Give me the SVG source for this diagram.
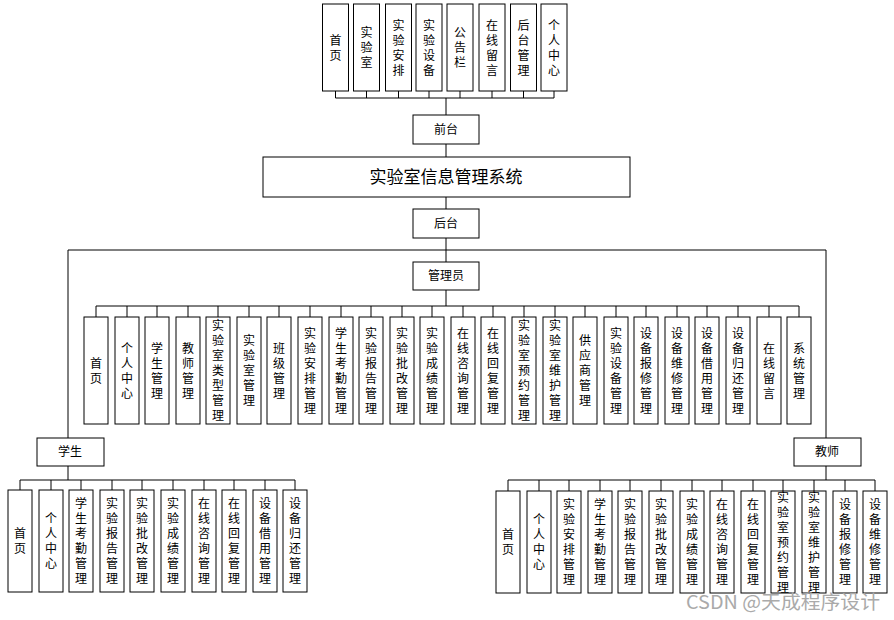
<svg xmlns="http://www.w3.org/2000/svg" width="894" height="620" viewBox="0 0 894 620">
<style>
rect{fill:#fff;stroke:#000;stroke-width:1}
text{font-family:"Noto Sans CJK SC","Liberation Sans",sans-serif;font-size:12px;fill:#000;text-anchor:middle}
.l{stroke:#000;stroke-width:1;fill:none}
.t{font-size:17px}
</style>
<rect x="0" y="0" width="894" height="620" style="stroke:none"/>
<g id="connectors">
<path class="l" d="M335.5 91V98M366.5 91V98M398.5 91V98M429 91V98M460 91V98M492 91V98M523.5 91V98M554 91V98M335.5 98H554M446 98V115M446 144V157M446 197V209M446 238V262M68 250H826M68 250V438M826 250V438"/>
<path class="l" d="M446 290V306M96 306H799M96 306V317M127 306V317M157 306V317M188 306V317M218 306V317M249 306V317M279 306V317M310 306V317M341 306V317M371 306V317M402 306V317M432 306V317M463 306V317M493 306V317M524 306V317M555 306V317M585 306V317M616 306V317M646 306V317M677 306V317M707 306V317M738 306V317M769 306V317M799 306V317"/>
<path class="l" d="M68 466V480M20 480H295M20 480V490M51 480V490M81 480V490M112 480V490M142 480V490M173 480V490M204 480V490M234 480V490M265 480V490M295 480V490"/>
<path class="l" d="M826 466V480M508 480H875M508 480V491M539 480V491M569 480V491M600 480V491M630 480V491M661 480V491M692 480V491M722 480V491M753 480V491M783 480V491M814 480V491M845 480V491M875 480V491"/>
</g>
<g id="front-items">
<rect x="322.5" y="4" width="26" height="87"/><text x="335.5" y="44.5"><tspan x="335.5">首</tspan><tspan x="335.5" dy="15">页</tspan></text>
<rect x="353.5" y="4" width="26" height="87"/><text x="366.5" y="37"><tspan x="366.5">实</tspan><tspan x="366.5" dy="15">验</tspan><tspan x="366.5" dy="15">室</tspan></text>
<rect x="385.5" y="4" width="26" height="87"/><text x="398.5" y="29.5"><tspan x="398.5">实</tspan><tspan x="398.5" dy="15">验</tspan><tspan x="398.5" dy="15">安</tspan><tspan x="398.5" dy="15">排</tspan></text>
<rect x="416" y="4" width="26" height="87"/><text x="429" y="29.5"><tspan x="429">实</tspan><tspan x="429" dy="15">验</tspan><tspan x="429" dy="15">设</tspan><tspan x="429" dy="15">备</tspan></text>
<rect x="447" y="4" width="26" height="87"/><text x="460" y="37"><tspan x="460">公</tspan><tspan x="460" dy="15">告</tspan><tspan x="460" dy="15">栏</tspan></text>
<rect x="479" y="4" width="26" height="87"/><text x="492" y="29.5"><tspan x="492">在</tspan><tspan x="492" dy="15">线</tspan><tspan x="492" dy="15">留</tspan><tspan x="492" dy="15">言</tspan></text>
<rect x="510.5" y="4" width="26" height="87"/><text x="523.5" y="29.5"><tspan x="523.5">后</tspan><tspan x="523.5" dy="15">台</tspan><tspan x="523.5" dy="15">管</tspan><tspan x="523.5" dy="15">理</tspan></text>
<rect x="541" y="4" width="26" height="87"/><text x="554" y="29.5"><tspan x="554">个</tspan><tspan x="554" dy="15">人</tspan><tspan x="554" dy="15">中</tspan><tspan x="554" dy="15">心</tspan></text>
</g>
<g id="qiantai"><rect x="413" y="115" width="66" height="29"/><text x="446" y="134">前台</text></g>
<g id="title"><rect x="263" y="157" width="367" height="40"/><text class="t" x="446" y="183">实验室信息管理系统</text></g>
<g id="houtai"><rect x="413" y="209" width="66" height="29"/><text x="446" y="228">后台</text></g>
<g id="admin"><rect x="413" y="262" width="66" height="28"/><text x="446" y="280">管理员</text></g>
<g id="student"><rect x="37" y="438" width="67" height="28"/><text x="70" y="456">学生</text></g>
<g id="teacher"><rect x="794" y="438" width="67" height="28"/><text x="827" y="456">教师</text></g>
<g id="admin-items">
<rect x="84" y="317" width="24" height="107"/><text x="96" y="367.5"><tspan x="96">首</tspan><tspan x="96" dy="15">页</tspan></text>
<rect x="115" y="317" width="24" height="107"/><text x="127" y="352.5"><tspan x="127">个</tspan><tspan x="127" dy="15">人</tspan><tspan x="127" dy="15">中</tspan><tspan x="127" dy="15">心</tspan></text>
<rect x="145" y="317" width="24" height="107"/><text x="157" y="352.5"><tspan x="157">学</tspan><tspan x="157" dy="15">生</tspan><tspan x="157" dy="15">管</tspan><tspan x="157" dy="15">理</tspan></text>
<rect x="176" y="317" width="24" height="107"/><text x="188" y="352.5"><tspan x="188">教</tspan><tspan x="188" dy="15">师</tspan><tspan x="188" dy="15">管</tspan><tspan x="188" dy="15">理</tspan></text>
<rect x="206" y="317" width="24" height="107"/><text x="218" y="330"><tspan x="218">实</tspan><tspan x="218" dy="15">验</tspan><tspan x="218" dy="15">室</tspan><tspan x="218" dy="15">类</tspan><tspan x="218" dy="15">型</tspan><tspan x="218" dy="15">管</tspan><tspan x="218" dy="15">理</tspan></text>
<rect x="237" y="317" width="24" height="107"/><text x="249" y="345"><tspan x="249">实</tspan><tspan x="249" dy="15">验</tspan><tspan x="249" dy="15">室</tspan><tspan x="249" dy="15">管</tspan><tspan x="249" dy="15">理</tspan></text>
<rect x="267" y="317" width="24" height="107"/><text x="279" y="352.5"><tspan x="279">班</tspan><tspan x="279" dy="15">级</tspan><tspan x="279" dy="15">管</tspan><tspan x="279" dy="15">理</tspan></text>
<rect x="298" y="317" width="24" height="107"/><text x="310" y="337.5"><tspan x="310">实</tspan><tspan x="310" dy="15">验</tspan><tspan x="310" dy="15">安</tspan><tspan x="310" dy="15">排</tspan><tspan x="310" dy="15">管</tspan><tspan x="310" dy="15">理</tspan></text>
<rect x="329" y="317" width="24" height="107"/><text x="341" y="337.5"><tspan x="341">学</tspan><tspan x="341" dy="15">生</tspan><tspan x="341" dy="15">考</tspan><tspan x="341" dy="15">勤</tspan><tspan x="341" dy="15">管</tspan><tspan x="341" dy="15">理</tspan></text>
<rect x="359" y="317" width="24" height="107"/><text x="371" y="337.5"><tspan x="371">实</tspan><tspan x="371" dy="15">验</tspan><tspan x="371" dy="15">报</tspan><tspan x="371" dy="15">告</tspan><tspan x="371" dy="15">管</tspan><tspan x="371" dy="15">理</tspan></text>
<rect x="390" y="317" width="24" height="107"/><text x="402" y="337.5"><tspan x="402">实</tspan><tspan x="402" dy="15">验</tspan><tspan x="402" dy="15">批</tspan><tspan x="402" dy="15">改</tspan><tspan x="402" dy="15">管</tspan><tspan x="402" dy="15">理</tspan></text>
<rect x="420" y="317" width="24" height="107"/><text x="432" y="337.5"><tspan x="432">实</tspan><tspan x="432" dy="15">验</tspan><tspan x="432" dy="15">成</tspan><tspan x="432" dy="15">绩</tspan><tspan x="432" dy="15">管</tspan><tspan x="432" dy="15">理</tspan></text>
<rect x="451" y="317" width="24" height="107"/><text x="463" y="337.5"><tspan x="463">在</tspan><tspan x="463" dy="15">线</tspan><tspan x="463" dy="15">咨</tspan><tspan x="463" dy="15">询</tspan><tspan x="463" dy="15">管</tspan><tspan x="463" dy="15">理</tspan></text>
<rect x="481" y="317" width="24" height="107"/><text x="493" y="337.5"><tspan x="493">在</tspan><tspan x="493" dy="15">线</tspan><tspan x="493" dy="15">回</tspan><tspan x="493" dy="15">复</tspan><tspan x="493" dy="15">管</tspan><tspan x="493" dy="15">理</tspan></text>
<rect x="512" y="317" width="24" height="107"/><text x="524" y="330"><tspan x="524">实</tspan><tspan x="524" dy="15">验</tspan><tspan x="524" dy="15">室</tspan><tspan x="524" dy="15">预</tspan><tspan x="524" dy="15">约</tspan><tspan x="524" dy="15">管</tspan><tspan x="524" dy="15">理</tspan></text>
<rect x="543" y="317" width="24" height="107"/><text x="555" y="330"><tspan x="555">实</tspan><tspan x="555" dy="15">验</tspan><tspan x="555" dy="15">室</tspan><tspan x="555" dy="15">维</tspan><tspan x="555" dy="15">护</tspan><tspan x="555" dy="15">管</tspan><tspan x="555" dy="15">理</tspan></text>
<rect x="573" y="317" width="24" height="107"/><text x="585" y="345"><tspan x="585">供</tspan><tspan x="585" dy="15">应</tspan><tspan x="585" dy="15">商</tspan><tspan x="585" dy="15">管</tspan><tspan x="585" dy="15">理</tspan></text>
<rect x="604" y="317" width="24" height="107"/><text x="616" y="337.5"><tspan x="616">实</tspan><tspan x="616" dy="15">验</tspan><tspan x="616" dy="15">设</tspan><tspan x="616" dy="15">备</tspan><tspan x="616" dy="15">管</tspan><tspan x="616" dy="15">理</tspan></text>
<rect x="634" y="317" width="24" height="107"/><text x="646" y="337.5"><tspan x="646">设</tspan><tspan x="646" dy="15">备</tspan><tspan x="646" dy="15">报</tspan><tspan x="646" dy="15">修</tspan><tspan x="646" dy="15">管</tspan><tspan x="646" dy="15">理</tspan></text>
<rect x="665" y="317" width="24" height="107"/><text x="677" y="337.5"><tspan x="677">设</tspan><tspan x="677" dy="15">备</tspan><tspan x="677" dy="15">维</tspan><tspan x="677" dy="15">修</tspan><tspan x="677" dy="15">管</tspan><tspan x="677" dy="15">理</tspan></text>
<rect x="695" y="317" width="24" height="107"/><text x="707" y="337.5"><tspan x="707">设</tspan><tspan x="707" dy="15">备</tspan><tspan x="707" dy="15">借</tspan><tspan x="707" dy="15">用</tspan><tspan x="707" dy="15">管</tspan><tspan x="707" dy="15">理</tspan></text>
<rect x="726" y="317" width="24" height="107"/><text x="738" y="337.5"><tspan x="738">设</tspan><tspan x="738" dy="15">备</tspan><tspan x="738" dy="15">归</tspan><tspan x="738" dy="15">还</tspan><tspan x="738" dy="15">管</tspan><tspan x="738" dy="15">理</tspan></text>
<rect x="757" y="317" width="24" height="107"/><text x="769" y="352.5"><tspan x="769">在</tspan><tspan x="769" dy="15">线</tspan><tspan x="769" dy="15">留</tspan><tspan x="769" dy="15">言</tspan></text>
<rect x="787" y="317" width="24" height="107"/><text x="799" y="352.5"><tspan x="799">系</tspan><tspan x="799" dy="15">统</tspan><tspan x="799" dy="15">管</tspan><tspan x="799" dy="15">理</tspan></text>
</g>
<g id="student-items">
<rect x="8" y="490" width="24" height="102"/><text x="20" y="538"><tspan x="20">首</tspan><tspan x="20" dy="15">页</tspan></text>
<rect x="39" y="490" width="24" height="102"/><text x="51" y="523"><tspan x="51">个</tspan><tspan x="51" dy="15">人</tspan><tspan x="51" dy="15">中</tspan><tspan x="51" dy="15">心</tspan></text>
<rect x="69" y="490" width="24" height="102"/><text x="81" y="508"><tspan x="81">学</tspan><tspan x="81" dy="15">生</tspan><tspan x="81" dy="15">考</tspan><tspan x="81" dy="15">勤</tspan><tspan x="81" dy="15">管</tspan><tspan x="81" dy="15">理</tspan></text>
<rect x="100" y="490" width="24" height="102"/><text x="112" y="508"><tspan x="112">实</tspan><tspan x="112" dy="15">验</tspan><tspan x="112" dy="15">报</tspan><tspan x="112" dy="15">告</tspan><tspan x="112" dy="15">管</tspan><tspan x="112" dy="15">理</tspan></text>
<rect x="130" y="490" width="24" height="102"/><text x="142" y="508"><tspan x="142">实</tspan><tspan x="142" dy="15">验</tspan><tspan x="142" dy="15">批</tspan><tspan x="142" dy="15">改</tspan><tspan x="142" dy="15">管</tspan><tspan x="142" dy="15">理</tspan></text>
<rect x="161" y="490" width="24" height="102"/><text x="173" y="508"><tspan x="173">实</tspan><tspan x="173" dy="15">验</tspan><tspan x="173" dy="15">成</tspan><tspan x="173" dy="15">绩</tspan><tspan x="173" dy="15">管</tspan><tspan x="173" dy="15">理</tspan></text>
<rect x="192" y="490" width="24" height="102"/><text x="204" y="508"><tspan x="204">在</tspan><tspan x="204" dy="15">线</tspan><tspan x="204" dy="15">咨</tspan><tspan x="204" dy="15">询</tspan><tspan x="204" dy="15">管</tspan><tspan x="204" dy="15">理</tspan></text>
<rect x="222" y="490" width="24" height="102"/><text x="234" y="508"><tspan x="234">在</tspan><tspan x="234" dy="15">线</tspan><tspan x="234" dy="15">回</tspan><tspan x="234" dy="15">复</tspan><tspan x="234" dy="15">管</tspan><tspan x="234" dy="15">理</tspan></text>
<rect x="253" y="490" width="24" height="102"/><text x="265" y="508"><tspan x="265">设</tspan><tspan x="265" dy="15">备</tspan><tspan x="265" dy="15">借</tspan><tspan x="265" dy="15">用</tspan><tspan x="265" dy="15">管</tspan><tspan x="265" dy="15">理</tspan></text>
<rect x="283" y="490" width="24" height="102"/><text x="295" y="508"><tspan x="295">设</tspan><tspan x="295" dy="15">备</tspan><tspan x="295" dy="15">归</tspan><tspan x="295" dy="15">还</tspan><tspan x="295" dy="15">管</tspan><tspan x="295" dy="15">理</tspan></text>
</g>
<g id="teacher-items">
<rect x="496" y="491" width="24" height="102"/><text x="508" y="539"><tspan x="508">首</tspan><tspan x="508" dy="15">页</tspan></text>
<rect x="527" y="491" width="24" height="102"/><text x="539" y="524"><tspan x="539">个</tspan><tspan x="539" dy="15">人</tspan><tspan x="539" dy="15">中</tspan><tspan x="539" dy="15">心</tspan></text>
<rect x="557" y="491" width="24" height="102"/><text x="569" y="509"><tspan x="569">实</tspan><tspan x="569" dy="15">验</tspan><tspan x="569" dy="15">安</tspan><tspan x="569" dy="15">排</tspan><tspan x="569" dy="15">管</tspan><tspan x="569" dy="15">理</tspan></text>
<rect x="588" y="491" width="24" height="102"/><text x="600" y="509"><tspan x="600">学</tspan><tspan x="600" dy="15">生</tspan><tspan x="600" dy="15">考</tspan><tspan x="600" dy="15">勤</tspan><tspan x="600" dy="15">管</tspan><tspan x="600" dy="15">理</tspan></text>
<rect x="618" y="491" width="24" height="102"/><text x="630" y="509"><tspan x="630">实</tspan><tspan x="630" dy="15">验</tspan><tspan x="630" dy="15">报</tspan><tspan x="630" dy="15">告</tspan><tspan x="630" dy="15">管</tspan><tspan x="630" dy="15">理</tspan></text>
<rect x="649" y="491" width="24" height="102"/><text x="661" y="509"><tspan x="661">实</tspan><tspan x="661" dy="15">验</tspan><tspan x="661" dy="15">批</tspan><tspan x="661" dy="15">改</tspan><tspan x="661" dy="15">管</tspan><tspan x="661" dy="15">理</tspan></text>
<rect x="680" y="491" width="24" height="102"/><text x="692" y="509"><tspan x="692">实</tspan><tspan x="692" dy="15">验</tspan><tspan x="692" dy="15">成</tspan><tspan x="692" dy="15">绩</tspan><tspan x="692" dy="15">管</tspan><tspan x="692" dy="15">理</tspan></text>
<rect x="710" y="491" width="24" height="102"/><text x="722" y="509"><tspan x="722">在</tspan><tspan x="722" dy="15">线</tspan><tspan x="722" dy="15">咨</tspan><tspan x="722" dy="15">询</tspan><tspan x="722" dy="15">管</tspan><tspan x="722" dy="15">理</tspan></text>
<rect x="741" y="491" width="24" height="102"/><text x="753" y="509"><tspan x="753">在</tspan><tspan x="753" dy="15">线</tspan><tspan x="753" dy="15">回</tspan><tspan x="753" dy="15">复</tspan><tspan x="753" dy="15">管</tspan><tspan x="753" dy="15">理</tspan></text>
<rect x="771" y="491" width="24" height="102"/><text x="783" y="501.5"><tspan x="783">实</tspan><tspan x="783" dy="15">验</tspan><tspan x="783" dy="15">室</tspan><tspan x="783" dy="15">预</tspan><tspan x="783" dy="15">约</tspan><tspan x="783" dy="15">管</tspan><tspan x="783" dy="15">理</tspan></text>
<rect x="802" y="491" width="24" height="102"/><text x="814" y="501.5"><tspan x="814">实</tspan><tspan x="814" dy="15">验</tspan><tspan x="814" dy="15">室</tspan><tspan x="814" dy="15">维</tspan><tspan x="814" dy="15">护</tspan><tspan x="814" dy="15">管</tspan><tspan x="814" dy="15">理</tspan></text>
<rect x="833" y="491" width="24" height="102"/><text x="845" y="509"><tspan x="845">设</tspan><tspan x="845" dy="15">备</tspan><tspan x="845" dy="15">报</tspan><tspan x="845" dy="15">修</tspan><tspan x="845" dy="15">管</tspan><tspan x="845" dy="15">理</tspan></text>
<rect x="863" y="491" width="24" height="102"/><text x="875" y="509"><tspan x="875">设</tspan><tspan x="875" dy="15">备</tspan><tspan x="875" dy="15">维</tspan><tspan x="875" dy="15">修</tspan><tspan x="875" dy="15">管</tspan><tspan x="875" dy="15">理</tspan></text>
</g>
<text x="686" y="609" textLength="194" lengthAdjust="spacingAndGlyphs" style="font-size:19px;fill:#aaa;text-anchor:start">CSDN @天成程序设计</text>
</svg>
